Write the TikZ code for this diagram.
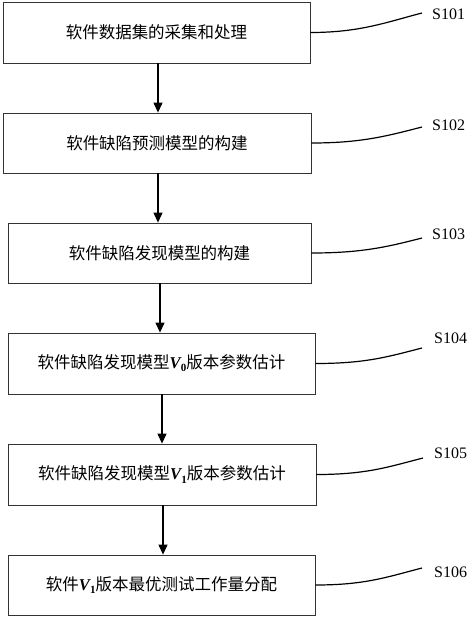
\documentclass[tikz,border=0pt]{standalone}
\usepackage{fontspec}
\setmainfont{Liberation Serif}
\newfontfamily\cjk{Noto Sans CJK SC}
\usetikzlibrary{arrows.meta,calc}
\newcommand{\Vsub}[1]{{\fontspec{Liberation Serif}\bfseries\itshape V}\raisebox{-0.35ex}{\fontspec{Liberation Serif}\bfseries\fontsize{11}{11}\selectfont #1}}
\begin{document}
\begin{tikzpicture}[x=1pt,y=1pt,
  stepbox/.style={draw=black!80,line width=0.8pt,minimum height=60pt,inner sep=0pt,
    font=\cjk\fontsize{16.5}{18}\selectfont},
  arr/.style={line width=1.1pt,-{Triangle[length=10pt,width=9pt]}},
  lead/.style={line width=1.2pt},
  tag/.style={anchor=west,inner sep=0pt,font=\fontsize{16}{18}\selectfont}]
\useasboundingbox (0,0) rectangle (474,-622);
\node[stepbox,minimum width=307pt,minimum height=61pt] (b1) at (156.5,-32.5) {软件数据集的采集和处理};
\node[stepbox,minimum width=308pt] (b2) at (157,-143) {软件缺陷预测模型的构建};
\node[stepbox,minimum width=303pt] (b3) at (159.5,-253) {软件缺陷发现模型的构建};
\node[stepbox,minimum width=307pt,minimum height=61pt] (b4) at (161.5,-363.5) {软件缺陷发现模型\Vsub{0}版本参数估计};
\node[stepbox,minimum width=308pt,minimum height=61pt] (b5) at (162,-474.5) {软件缺陷发现模型\Vsub{1}版本参数估计};
\node[stepbox,minimum width=307pt] (b6) at (161.5,-585) {软件\Vsub{1}版本最优测试工作量分配};

\draw[arr] ($(b1.south)+(1.5,0)$) -- ($(b1.south |- b2.north)+(1.5,0)$);
\draw[arr] ($(b2.south)+(1,0)$) -- ($(b2.south |- b3.north)+(1,0)$);
\draw[arr] ($(b3.south)+(0.5,0)$) -- ($(b3.south |- b4.north)+(0.5,0)$);
\draw[arr] ($(b4.south)+(0.5,0)$) -- ($(b4.south |- b5.north)+(0.5,0)$);
\draw[arr] ($(b5.south)+(1,0)$) -- ($(b5.south |- b6.north)+(1,0)$);

\coordinate (e1) at (422,-13);
\coordinate (e2) at (422,-127);
\coordinate (e3) at (422,-238);
\coordinate (e4) at (422,-348);
\coordinate (e5) at (423,-458);
\coordinate (e6) at (422,-568);
\node[tag] (t1) at (432,-14) {S101};
\node[tag] (t2) at (432,-125) {S102};
\node[tag] (t3) at (432,-234) {S103};
\node[tag] (t4) at (434,-338) {S104};
\node[tag] (t5) at (434,-453) {S105};
\node[tag] (t6) at (434,-572) {S106};
\foreach \i in {1,...,6}{
  \draw[lead] (b\i.east) .. controls ($(b\i.east)+(50,0)$) and ($(e\i)+(-35,-9)$) .. (e\i);
}
\end{tikzpicture}
\end{document}
